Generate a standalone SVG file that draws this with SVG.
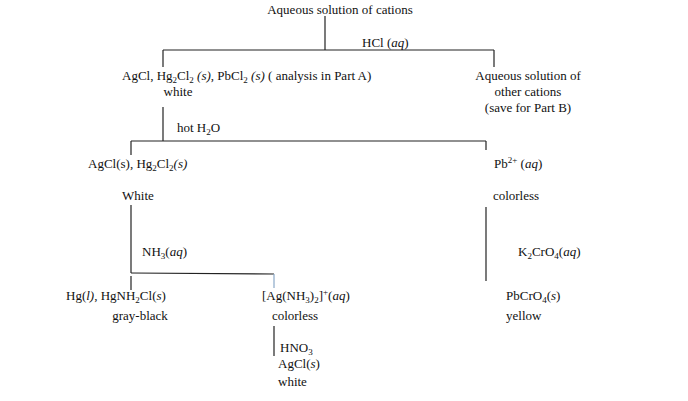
<svg xmlns="http://www.w3.org/2000/svg" width="688" height="401" viewBox="0 0 688 401">
<style>
text{font-family:"Liberation Serif","Times New Roman",serif;font-size:13px;fill:#111}
.c{text-anchor:middle}
.i{font-style:italic}
.s{font-size:9px}
line{stroke:#222;stroke-width:1.2}
</style>
<rect width="688" height="401" fill="#fff"/>
<g id="connectors">
<line x1="325" y1="16" x2="325" y2="50"/>
<line x1="163" y1="50" x2="494" y2="50"/>
<line x1="163" y1="50" x2="163" y2="67"/>
<line x1="494" y1="50" x2="494" y2="67"/>
<line x1="163" y1="107" x2="163" y2="141"/>
<line x1="131" y1="141" x2="486" y2="141"/>
<line x1="131" y1="141" x2="131" y2="155"/>
<line x1="486" y1="141" x2="486" y2="150"/>
<line x1="131" y1="205" x2="131" y2="273"/>
<line x1="131" y1="273" x2="274" y2="274"/>
<line x1="131" y1="276" x2="131" y2="290"/>
<line x1="274" y1="274" x2="274" y2="288" style="stroke:#8aa8c8"/>
<line x1="486" y1="207" x2="486" y2="281"/>
<line x1="274" y1="326" x2="274" y2="356"/>
</g>
<g id="n-top"><text x="340" y="14" class="c">Aqueous solution of cations</text></g>
<g id="l-hcl"><text x="362" y="47">HCl (<tspan class="i">aq</tspan>)</text></g>
<g id="n-ppt"><text x="122" y="80">AgCl, Hg<tspan class="s" dy="3">2</tspan><tspan dy="-3">Cl</tspan><tspan class="s" dy="3">2</tspan><tspan dy="-3" class="i"> (s)</tspan>, PbCl<tspan class="s" dy="3">2</tspan><tspan dy="-3" class="i"> (s)</tspan> ( analysis in Part A)</text><text x="178" y="96" class="c">white</text></g>
<g id="n-other"><text x="528" y="80" class="c">Aqueous solution of</text><text x="528" y="96" class="c">other cations</text><text x="528" y="112" class="c">(save for Part B)</text></g>
<g id="l-hot"><text x="177" y="132">hot  H<tspan class="s" dy="3">2</tspan><tspan dy="-3">O</tspan></text></g>
<g id="n-agcl-hg"><text x="88" y="168">AgCl(s), Hg<tspan class="s" dy="3">2</tspan><tspan dy="-3">Cl</tspan><tspan class="s" dy="3">2</tspan><tspan dy="-3" class="i">(s)</tspan></text><text x="122" y="200">White</text></g>
<g id="n-pb"><text x="494" y="168">Pb<tspan class="s" dy="-5">2+</tspan><tspan dy="5"> (</tspan><tspan class="i">aq</tspan>)</text><text x="516" y="200" class="c">colorless</text></g>
<g id="l-nh3"><text x="142" y="256">NH<tspan class="s" dy="3">3</tspan><tspan dy="-3">(</tspan><tspan class="i">aq</tspan>)</text></g>
<g id="l-k2cro4"><text x="518" y="256">K<tspan class="s" dy="3">2</tspan><tspan dy="-3">CrO</tspan><tspan class="s" dy="3">4</tspan><tspan dy="-3">(</tspan><tspan class="i">aq</tspan>)</text></g>
<g id="n-hg"><text x="66" y="300">Hg(<tspan class="i">l)</tspan>, HgNH<tspan class="s" dy="3">2</tspan><tspan dy="-3">Cl(</tspan><tspan class="i">s</tspan>)</text><text x="140" y="320" class="c">gray-black</text></g>
<g id="n-ag"><text x="262" y="300">[Ag(NH<tspan class="s" dy="3">3</tspan><tspan dy="-3">)</tspan><tspan class="s" dy="3">2</tspan><tspan dy="-3">]</tspan><tspan class="s" dy="-5">+</tspan><tspan dy="5">(</tspan><tspan class="i">aq</tspan>)</text><text x="295" y="320" class="c">colorless</text></g>
<g id="n-pbcro4"><text x="506" y="300">PbCrO<tspan class="s" dy="3">4</tspan><tspan dy="-3">(</tspan><tspan class="i">s</tspan>)</text><text x="506" y="320">yellow</text></g>
<g id="l-hno3"><text x="280" y="352">HNO<tspan class="s" dy="3">3</tspan></text></g>
<g id="n-agcl"><text x="278" y="368">AgCl(<tspan class="i">s</tspan>)</text><text x="278" y="386">white</text></g>
</svg>
